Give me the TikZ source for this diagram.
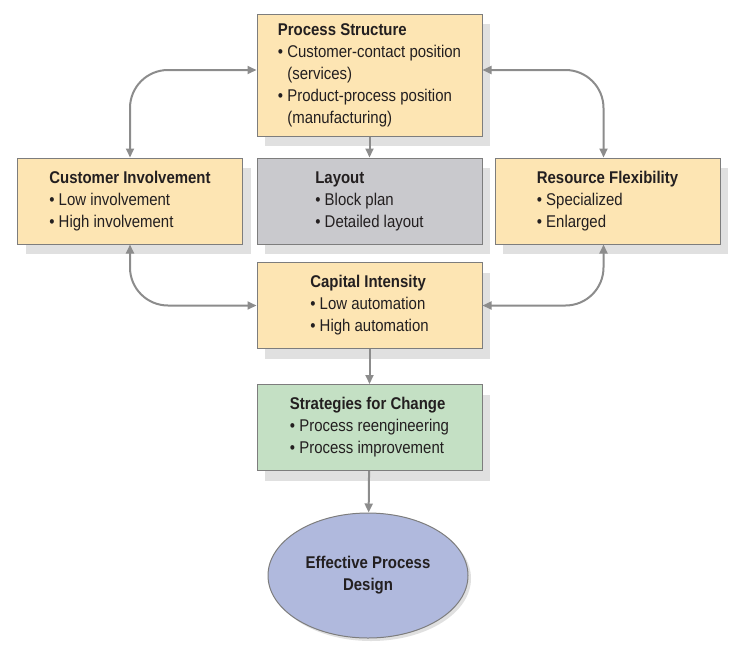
\documentclass[tikz,border=0pt]{standalone}
\usepackage{fontspec}
\setmainfont{Liberation Sans}[FakeStretch=0.88]
\usetikzlibrary{arrows.meta,shadows,shapes.geometric}
\definecolor{peach}{RGB}{253,229,179}
\definecolor{slate}{RGB}{201,201,205}
\definecolor{sage}{RGB}{196,224,196}
\definecolor{lilac}{RGB}{176,185,221}
\definecolor{edge}{RGB}{125,125,125}
\definecolor{wire}{RGB}{140,140,140}
\definecolor{ink}{RGB}{35,31,32}
\tikzset{
  base/.style={draw=edge, line width=1pt, text=ink, font=\fontsize{17}{22}\selectfont},
  box/.style={base, minimum width=225pt, align=left,
    drop shadow={shadow xshift=8pt, shadow yshift=-10pt, fill=black!12, opacity=1}},
  goal/.style={base, ellipse, minimum width=200pt, minimum height=125pt, align=center,
    drop shadow={shadow xshift=3pt, shadow yshift=-3pt, fill=black!12, opacity=1}},
  conn/.style={draw=wire, line width=2pt, -{Triangle[length=9pt,width=8pt]}},
  both/.style={conn, {Triangle[length=9pt,width=8pt]}-{Triangle[length=9pt,width=8pt]}, rounded corners=38pt}
}
\newcommand{\hd}[1]{\textbf{#1}}
\newcommand{\itm}{\textbullet\ }
\newcommand{\ind}{\hphantom{\textbullet\ }}
\begin{document}
\begin{tikzpicture}[x=1pt,y=-1pt]
  \useasboundingbox (0,0) rectangle (738,654);
  % boxes
  \node[box, fill=peach, minimum height=122pt] (proc) at (369.5,75)
    {\hd{Process Structure}\\ \itm Customer-contact position\\ \ind(services)\\ \itm Product-process position\\ \ind(manufacturing)};
  \node[box, fill=peach, minimum height=86pt] (cust) at (130,201)
    {\hd{Customer Involvement}\\ \itm Low involvement\\ \itm High involvement};
  \node[box, fill=slate, minimum height=86pt] (lay) at (369.5,201)
    {\hd{Layout}\\ \itm Block plan\\ \itm Detailed layout};
  \node[box, fill=peach, minimum height=86pt] (res) at (607.5,201)
    {\hd{Resource Flexibility}\\ \itm Specialized\\ \itm Enlarged};
  \node[box, fill=peach, minimum height=86pt] (cap) at (369.5,305.5)
    {\hd{Capital Intensity}\\ \itm Low automation\\ \itm High automation};
  \node[box, fill=sage, minimum height=86pt] (strat) at (369.5,427.5)
    {\hd{Strategies for Change}\\ \itm Process reengineering\\ \itm Process improvement};
  \node[goal, fill=lilac] (eff) at (368,575.5)
    {\hd{Effective Process}\\ \hd{Design}};
  % connectors
  \draw[conn] (proc) -- (lay);
  \draw[conn] (cap) -- (strat);
  \draw[conn] (strat) -- (eff);
  \draw[both] ([yshift=5pt]proc.west) -| (cust.north);
  \draw[both] ([yshift=5pt]proc.east) -| ([xshift=-4pt]res.north);
  \draw[both] (cust.south) |- (cap.west);
  \draw[both] ([xshift=-4pt]res.south) |- (cap.east);
\end{tikzpicture}
\end{document}
